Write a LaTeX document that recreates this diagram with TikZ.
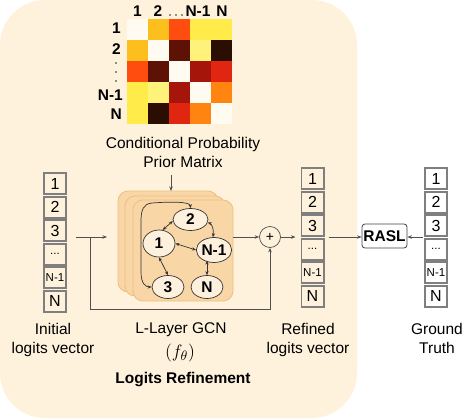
\documentclass[tikz,border=0pt]{standalone}
\usepackage{fontspec}
\setmainfont{Liberation Sans}
\usetikzlibrary{arrows.meta,shapes.geometric,calc}
\definecolor{bgc}{HTML}{FEF2DC}
\definecolor{gcnfill}{HTML}{F9D6A6}
\definecolor{gcndraw}{HTML}{F0BE80}
\definecolor{ellfill}{HTML}{FDF1DE}
\definecolor{cellgray}{HTML}{7F7F7F}
\definecolor{lin}{HTML}{505050}
\definecolor{cW}{HTML}{FFFBF0}
\definecolor{cOY}{HTML}{FDBF1E}
\definecolor{cOR}{HTML}{FF4C0F}
\definecolor{cY}{HTML}{FFEB4A}
\definecolor{cLY}{HTML}{FFF27A}
\definecolor{cDB}{HTML}{5E1205}
\definecolor{cBK}{HTML}{2A0E02}
\definecolor{cDR}{HTML}{A5150A}
\definecolor{cR}{HTML}{E02510}
\definecolor{cO}{HTML}{FF8410}
\newcommand\mydots{...}
\tikzset{
  txt/.style={font=\fontsize{15.5}{19}\selectfont, align=center, inner sep=0pt},
  btxt/.style={font=\bfseries\fontsize{15.5}{18.5}\selectfont, inner sep=0pt, align=center},
  vcell/.style={draw=cellgray, line width=1.8pt, minimum width=22.2pt, minimum height=21pt, inner sep=0pt, font=\fontsize{16}{17}\selectfont},
  scell/.style={vcell, font=\fontsize{11.5}{13}\selectfont},
  gcnbox/.style={draw=gcndraw, fill=gcnfill, line width=0.8pt, rounded corners=10pt},
  ell/.style={ellipse, draw=black!80, fill=ellfill, line width=0.7pt, inner sep=0pt, minimum width=32pt, minimum height=24pt, font=\bfseries\fontsize{15.5}{18}\selectfont},
  arr/.style={draw=lin, line width=0.7pt, -{Stealth[length=4.5pt,width=3.5pt]}},
  darr/.style={draw=black!80, line width=0.7pt, {Stealth[length=4pt,width=3.2pt]}-{Stealth[length=4pt,width=3.2pt]}},
}
\begin{document}
\begin{tikzpicture}[x=1pt,y=-1pt]
\useasboundingbox (0,0) rectangle (474,420);
% background
\fill[bgc, rounded corners=45pt] (0,0) rectangle (357,418);

% heat map
\def\cs{21}
\foreach \row [count=\r from 0] in {{cW,cOY,cOR,cY,cY},{cOY,cW,cDB,cLY,cBK},{cOR,cDB,cW,cDR,cR},{cY,cLY,cDR,cW,cO},{cY,cBK,cR,cO,cW}}{
  \foreach \c [count=\k from 0] in \row {
    \fill[\c] ({127+\k*\cs},{19+\r*\cs}) rectangle ({127+(\k+1)*\cs},{19+(\r+1)*\cs});
  }
}
\node[btxt] (c1) at (137.5,11) {1};
\node[btxt] (c2) at (158,11) {2};
\foreach \x in {170,176,182} \fill[black!85] (\x,15) circle (0.9);
\node[btxt] (c4) at (198,11) {N-1};
\node[btxt] (c5) at (222,11) {N};
\node[btxt, anchor=east] (r1) at (121,28) {1};
\node[btxt, anchor=east] (r2) at (121,49) {2};
\foreach \y in {63,72,81} \fill[black!85] (116,\y) circle (0.9);
\node[btxt, anchor=east] (r4) at (123,95) {N-1};
\node[btxt, anchor=east] (r5) at (122,114) {N};
\node[txt] (prior) at (183,152) {Conditional Probability\\Prior Matrix};

% GCN boxes
\draw[gcnbox] (118,191) rectangle (218,292);
\draw[gcnbox] (125,196) rectangle (225,296);
\node[gcnbox, minimum width=100pt, minimum height=101pt, inner sep=0pt] (gcnf) at (183,250.5) {};
\coordinate (gcnb) at (168,191);

% ellipses
\node[ell, minimum width=35pt, minimum height=22pt] (n2) at (190.5,219.5) {2};
\node[ell, minimum height=27pt] (n1) at (159,243.5) {1};
\node[ell, minimum width=34pt, minimum height=25pt] (nN1) at (214,250) {N-1};
\node[ell, minimum height=23pt] (n3) at (168,287) {3};
\node[ell, minimum height=23pt] (nN) at (207,287) {N};

\draw[darr] (n1.75) -- (n2.185);
\draw[darr] (n2.350) .. controls (212,224) and (214,230) .. (nN1.95);
\draw[darr] (n1.east) -- (nN1.west);
\draw[darr] (n1.south) -- (n3.north);
\draw[darr] (nN.north) -- ($(nN.north)+(0,-14.5)$);
\draw[darr] (n2.north) .. controls (190,201) and (165,202) .. (152,203)
   .. controls (143,204) and (141,210) .. (141,222) -- (141,272)
   .. controls (141,284) and (146,287) .. (n3.west);

% prior arrow
\coordinate (pa) at (171,175);
\draw[arr] (pa) -- (pa |- gcnb);

% vectors
\foreach \t [count=\i from 0] in {1,2,3,\mydots,N-1,N}{
  \ifnum\i=3 \def\st{scell}\else\ifnum\i=4 \def\st{scell}\else\def\st{vcell}\fi\fi
  \node[\st] (iv\i) at (55,{183.75+\i*23.5}) {\t};
  \node[\st] (rv\i) at (312.5,{178.75+\i*23.5}) {\t};
  \node[\st] (gv\i) at (436,{178.75+\i*23.5}) {\t};
}

% plus and RASL
\node[circle, draw=lin, line width=0.7pt, fill=bgc, minimum size=21pt, inner sep=0pt, font=\fontsize{14}{14}\selectfont] (plus) at (270,237) {+};
\node[draw=black!75, line width=0.8pt, fill=white, rounded corners=3pt, minimum width=45pt, minimum height=24pt, inner sep=0pt, font=\bfseries\fontsize{15.5}{18}\selectfont] (rasl) at (384.5,236) {RASL};

% connectors
\coordinate (ivout) at (76,237);
\coordinate (br) at (90,237);
\coordinate (gcnin) at (107,237);
\draw[arr] (ivout) -- (gcnin);
\draw[arr] (br) -- (90,309) -- (plus.south |- 0,309) -- (plus.south);
\draw[arr] (gcnf.east |- plus) -- (plus.west);
\draw[arr, shorten >=5pt] (plus.east) -- (plus -| rv3.west);
\draw[arr, shorten <=4pt] (plus -| rv3.east) -- (rasl.west |- plus);
\draw[arr, shorten <=1pt] (plus -| gv3.west) -- (rasl.east |- plus);

% labels
\node[txt] (lin1) at (53,340) {Initial\\logits vector};
\node[txt] (lgcn) at (181,330) {L-Layer GCN};
\node[txt] (lf) at (180,353) {\scalebox{1.25}{$(f_\theta)$}};
\node[btxt] (lref) at (183,380) {Logits Refinement};
\node[txt] (lrv) at (308,340) {Refined\\logits vector};
\node[txt] (lgt) at (437,338) {Ground\\Truth};
\end{tikzpicture}
\end{document}
